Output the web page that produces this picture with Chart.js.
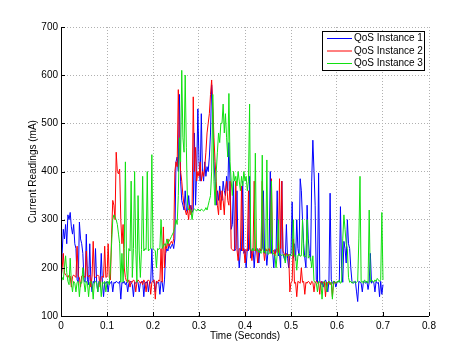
<!DOCTYPE html>
<html><head><meta charset="utf-8">
<script src="https://cdn.jsdelivr.net/npm/chart.js@4/dist/chart.umd.min.js"></script>
<style>html,body{margin:0;padding:0;background:#fff}#wrap{width:474px;height:355px}</style>
</head><body><div id="wrap"><canvas id="c" width="474" height="355"></canvas></div>
<script>
const seriesNames = ["QoS Instance 1", "QoS Instance 2", "QoS Instance 3"];
const sampleStep = 0.0025; // seconds between readings
const xTickValues = [0, 0.1, 0.2, 0.3, 0.4, 0.5, 0.6, 0.7, 0.8];
const yTickValues = [100, 200, 300, 400, 500, 600, 700];
const xTitle = "Time (Seconds)";
const yTitle = "Current Readings (mA)";

const current1 = [
150,230,280,260,290,250,310,300,315,285,
270,290,250,240,175,170,295,260,250,230,
175,170,270,175,165,250,170,150,172,168,
240,170,150,172,168,230,170,140,170,168,
172,150,170,168,172,150,170,168,172,170,
168,172,135,170,168,172,165,170,150,168,
172,170,165,140,170,168,172,170,150,168,
170,172,140,170,168,172,150,170,168,240,
172,170,150,172,168,170,145,172,170,150,
175,230,240,235,250,240,245,250,240,260,
420,430,400,560,380,340,330,320,360,320,
315,350,320,330,315,320,480,330,400,530,
420,380,520,400,380,420,390,410,400,430,
480,580,520,420,380,330,360,340,370,350,
340,380,360,350,390,360,460,380,280,290,
380,235,240,360,235,200,240,235,380,230,
238,200,240,235,390,220,238,240,200,238,
235,240,210,238,235,240,360,230,238,205,
235,240,400,230,235,200,238,232,360,225,
230,200,380,230,220,215,290,220,200,225,
230,337,220,250,215,300,240,225,385,360,
300,250,220,200,330,260,230,215,380,465,
400,330,175,170,397,172,165,172,160,170,
175,168,150,172,355,175,168,170,172,160,
170,172,170,327,200,170,255,240,210,300,
250,240,200,172,168,170,172,150,130,172,
170,168,150,172,170,168,172,155,170,230,
168,172,170,150,172,168,170,140,172,145,
165];

const current2 = [
175,200,230,190,185,183,180,185,183,160,
182,185,183,180,245,183,180,160,183,185,
182,180,235,183,182,185,160,183,255,182,
180,183,185,182,160,180,183,180,245,180,
182,250,180,175,270,340,330,300,440,400,
395,405,300,250,290,200,180,172,170,175,
160,172,170,175,172,150,170,175,172,168,
172,165,175,170,150,172,175,172,145,170,
172,175,135,172,170,175,172,240,170,285,
200,250,240,260,245,250,255,250,260,400,
420,410,570,450,400,380,350,330,320,310,
320,300,330,310,320,555,400,450,380,400,
390,420,380,400,390,410,440,480,500,520,
560,590,540,470,420,380,330,310,360,320,
360,340,310,360,380,340,330,380,240,238,
235,240,380,238,215,240,238,370,235,240,
210,238,235,360,238,240,215,238,380,235,
240,210,238,240,235,380,238,215,240,235,
238,240,230,385,238,235,225,238,240,232,
385,240,380,235,230,225,230,225,228,150,
170,172,260,168,170,140,172,170,168,200,
170,172,145,170,168,172,170,165,172,170,
150,170,172,168,170,145,172,170,168,172,
140,170,168,172,165,170,140,172,168,170,
168];

const current3 = [
165,180,175,200,225,190,172,165,220,170,
150,172,168,150,170,172,140,170,168,200,
170,150,172,168,140,170,172,165,135,170,
172,168,150,170,172,140,170,168,172,150,
170,172,165,200,250,300,310,305,300,290,
270,250,170,230,170,240,420,200,170,240,
235,380,180,240,400,238,170,350,235,180,
238,390,235,240,238,400,235,238,240,435,
240,238,235,200,240,238,242,300,240,245,
250,245,260,250,255,260,265,270,275,285,
300,290,350,470,420,610,470,440,600,450,
330,320,322,318,300,320,322,320,318,322,
320,318,322,320,318,320,325,320,330,340,
350,400,560,380,330,400,440,480,460,500,
500,540,480,520,470,430,562,420,380,350,
400,380,390,370,400,380,360,390,370,400,
380,390,360,380,540,238,235,240,235,438,
235,238,232,235,230,434,232,235,230,424,
228,230,232,380,228,230,226,200,228,300,
226,228,225,228,226,210,228,225,226,228,
225,226,300,224,226,195,225,230,224,225,
300,224,225,222,300,220,224,222,200,225,
172,170,168,150,172,170,168,135,170,172,
168,150,170,172,168,170,135,172,170,168,
172,170,175,168,170,260,310,280,250,240,
180,170,172,168,170,172,168,170,172,260,
390,170,172,168,175,170,172,168,320,170,
175,172,170,175,172,178,175,172,175,315,
175];

const seriesColors = ["#0000ff", "#ff0000", "#10e010"];

function toPoints(arr){ return arr.map((v,i)=>({x: Math.round(i*sampleStep*10000)/10000, y: v})); }

const PLOT = {left:61, right:429, top:27, bottom:316};
const FONT = "10px 'Liberation Sans', Arial, sans-serif";

const decor = {
  id: 'decor',
  afterDraw(chart){
    const ctx = chart.ctx, ca = chart.chartArea;
    const xs = chart.scales.x, ys = chart.scales.y;
    ctx.save();
    ctx.strokeStyle = '#000'; ctx.lineWidth = 1;
    ctx.beginPath();
    ctx.moveTo(Math.round(ca.left)+0.5, ca.top);
    ctx.lineTo(Math.round(ca.left)+0.5, Math.round(ca.bottom)+0.5);
    ctx.lineTo(ca.right, Math.round(ca.bottom)+0.5);
    ctx.stroke();
    ctx.beginPath();
    xTickValues.forEach(v=>{ const px=Math.round(xs.getPixelForValue(v))+0.5; ctx.moveTo(px, ca.bottom); ctx.lineTo(px, ca.bottom-4); });
    yTickValues.forEach(v=>{ const py=Math.round(ys.getPixelForValue(v))+0.5; ctx.moveTo(ca.left, py); ctx.lineTo(ca.left+4, py); });
    ctx.stroke();
    ctx.fillStyle = '#000'; ctx.font = FONT;
    ctx.textAlign = 'center'; ctx.textBaseline = 'middle';
    ctx.fillText(xTitle, (ca.left+ca.right)/2, 336);
    ctx.save(); ctx.translate(33, (ca.top+ca.bottom)/2); ctx.rotate(-Math.PI/2);
    ctx.fillText(yTitle, 0, 0); ctx.restore();
    const bx=322.5, by=31.5, bw=102, bh=39;
    ctx.fillStyle='#fff'; ctx.fillRect(bx,by,bw,bh);
    ctx.strokeStyle='#000'; ctx.strokeRect(bx,by,bw,bh);
    const rows=[38.5, 51, 63.5];
    seriesNames.forEach((n,i)=>{
      ctx.strokeStyle=seriesColors[i]; ctx.beginPath(); ctx.moveTo(327, rows[i]); ctx.lineTo(352, rows[i]); ctx.stroke();
      ctx.fillStyle='#000'; ctx.textAlign='left'; ctx.fillText(n, 354, rows[i]);
    });
    ctx.restore();
  }
};

const gridOpts = {color:'#b0b0b0', lineWidth:1, drawTicks:false, drawOnChartArea:true};

new Chart(document.getElementById('c'), {
  type: 'line',
  data: {
    datasets: [current1, current2, current3].map((d,i)=>({
      label: seriesNames[i], data: toPoints(d), borderColor: seriesColors[i],
      borderWidth: 1, pointRadius: 0, tension: 0, fill: false, order: 3-i
    }))
  },
  options: {
    responsive: false, animation: false,
    layout: {padding: {left:0, right:474-PLOT.right, top:PLOT.top, bottom:0}},
    plugins: {legend:{display:false}, tooltip:{enabled:false}},
    scales: {
      x: {
        type:'linear', min:0, max:0.8,
        afterBuildTicks(s){ s.ticks = xTickValues.map(v=>({value:v})); },
        afterFit(s){ s.height = 355-PLOT.bottom; },
        ticks:{ font:{family:"'Liberation Sans', Arial, sans-serif", size:10}, color:'#000', padding:4, maxRotation:0,
          callback:v=>String(Math.round(v*10)/10) },
        grid: gridOpts,
        border:{display:false, dash:[1,2]}
      },
      y: {
        min:100, max:700,
        afterBuildTicks(s){ s.ticks = yTickValues.map(v=>({value:v})); },
        afterFit(s){ s.width = PLOT.left; },
        ticks:{ font:{family:"'Liberation Sans', Arial, sans-serif", size:10}, color:'#000', padding:3 },
        grid: gridOpts,
        border:{display:false, dash:[1,2]}
      }
    }
  },
  plugins:[decor]
});
</script></body></html>
